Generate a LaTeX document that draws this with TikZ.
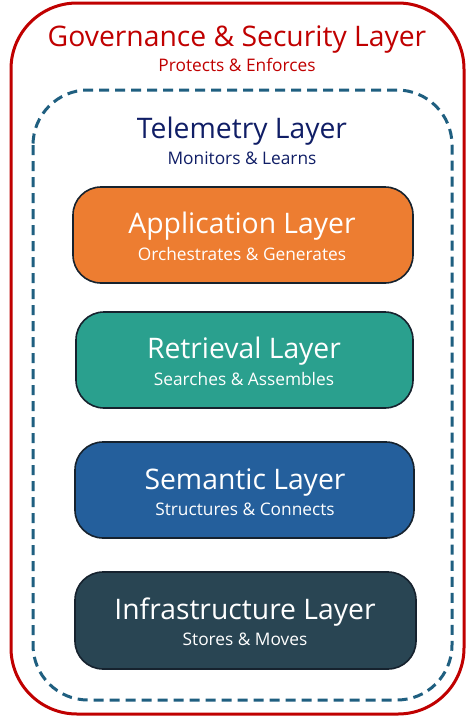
\documentclass[tikz,border=0pt]{standalone}
\usepackage{fontspec}
\setmainfont{Open Sans}
\definecolor{govred}{HTML}{C00000}
\definecolor{teldash}{HTML}{1F5F80}
\definecolor{telnavy}{HTML}{101E66}
\definecolor{apporange}{HTML}{ED7D31}
\definecolor{retteal}{HTML}{2AA08E}
\definecolor{semblue}{HTML}{245F9C}
\definecolor{infdark}{HTML}{294553}
\definecolor{boxedge}{HTML}{16222E}
\begin{document}
\begin{tikzpicture}[x=1pt,y=-1pt,
  layerbox/.style={draw=boxedge,line width=1.6pt,rounded corners=28pt},
  titletext/.style={font=\fontsize{28.3}{32}\selectfont,inner sep=0pt,anchor=base},
  subtext/.style={font=\fontsize{17.3}{20}\selectfont,inner sep=0pt,anchor=base},
]
\useasboundingbox (0,0) rectangle (474,718);
\fill[white] (0,0) rectangle (474,718);

% outer governance frame
\draw[govred,line width=3pt,rounded corners=66pt] (11,3) rectangle (464,714);
\node[titletext,text=govred] (govt) at (237,46) {Governance \& Security Layer};
\node[subtext,text=govred] (govs) at (237,71) {Protects \& Enforces};

% telemetry dashed frame
\draw[teldash,line width=3pt,dash pattern=on 10pt off 6pt,rounded corners=55pt] (33,90) rectangle (452,700);
\node[titletext,text=telnavy] (telt) at (242,138) {Telemetry Layer};
\node[subtext,text=telnavy] (tels) at (242,164) {Monitors \& Learns};

% stacked layers
\filldraw[layerbox,fill=apporange] (73,187) rectangle (413,283);
\node[titletext,text=white] (appt) at (242,233) {Application Layer};
\node[subtext,text=white] (apps) at (242,260) {Orchestrates \& Generates};

\filldraw[layerbox,fill=retteal] (76,312) rectangle (413,408);
\node[titletext,text=white] (rett) at (244,358) {Retrieval Layer};
\node[subtext,text=white] (rets) at (244,385) {Searches \& Assembles};

\filldraw[layerbox,fill=semblue] (75,442) rectangle (414,538);
\node[titletext,text=white] (semt) at (245,489) {Semantic Layer};
\node[subtext,text=white] (sems) at (245,515) {Structures \& Connects};

\filldraw[layerbox,fill=infdark] (75,572) rectangle (416,669);
\node[titletext,text=white] (inft) at (245,619) {Infrastructure Layer};
\node[subtext,text=white] (infs) at (245,645) {Stores \& Moves};
\end{tikzpicture}
\end{document}
